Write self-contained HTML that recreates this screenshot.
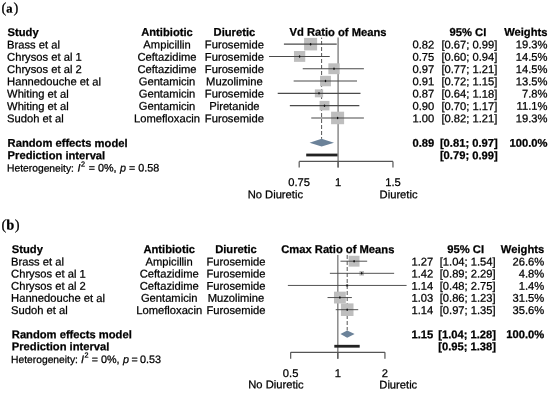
<!DOCTYPE html>
<html><head><meta charset="utf-8"><style>
html,body{margin:0;padding:0;background:#fff;}
svg{display:block;filter:blur(0.3px);}
text{font-family:"Liberation Sans",Arial,sans-serif;fill:#000;stroke:#000;stroke-width:0.25px;}
text.lab{font-family:"Liberation Serif",serif;}
</style></head><body>
<svg width="550" height="393" viewBox="0 0 550 393">
<rect width="550" height="393" fill="#fff"/>
<text x="1.5" y="12.6" class="lab" font-size="14.5" transform="matrix(1 0.001 0 1 0 -0.0015)">(<tspan font-weight="bold" font-size="12.6">a</tspan><tspan dx="0.9">)</tspan></text>
<text x="7.60" y="35.90" font-weight="bold" font-size="11.2" transform="matrix(1 0.001 0 1 0 -0.0076)">Study</text>
<text x="167.00" y="35.90" text-anchor="middle" font-weight="bold" font-size="11.2" transform="matrix(1 0.001 0 1 0 -0.1670)">Antibiotic</text>
<text x="234.40" y="35.90" text-anchor="middle" font-weight="bold" font-size="11.2" transform="matrix(1 0.001 0 1 0 -0.2344)">Diuretic</text>
<text x="338.00" y="35.90" text-anchor="middle" font-weight="bold" font-size="11.2" transform="matrix(1 0.001 0 1 0 -0.3380)">Vd Ratio of Means</text>
<text x="467.90" y="35.90" text-anchor="middle" font-weight="bold" font-size="11.2" transform="matrix(1 0.001 0 1 0 -0.4679)">95% CI</text>
<text x="547.50" y="35.90" text-anchor="end" font-weight="bold" font-size="11.2" transform="matrix(1 0.001 0 1 0 -0.5475)">Weights</text>
<text x="7.10" y="48.40" font-size="11.2" transform="matrix(1 0.001 0 1 0 -0.0071)">Brass et al</text>
<text x="167.00" y="48.40" text-anchor="middle" font-size="11.2" transform="matrix(1 0.001 0 1 0 -0.1670)">Ampicillin</text>
<text x="234.40" y="48.40" text-anchor="middle" font-size="11.2" transform="matrix(1 0.001 0 1 0 -0.2344)">Furosemide</text>
<text x="434.30" y="48.40" text-anchor="end" font-size="11.2" transform="matrix(1 0.001 0 1 0 -0.4343)">0.82</text>
<text x="441.40" y="48.40" font-size="11.2" transform="matrix(1 0.001 0 1 0 -0.4414)">[0.67; 0.99]</text>
<text x="547.50" y="48.40" text-anchor="end" font-size="11.2" transform="matrix(1 0.001 0 1 0 -0.5475)">19.3%</text>
<text x="7.10" y="60.70" font-size="11.2" transform="matrix(1 0.001 0 1 0 -0.0071)">Chrysos et al 1</text>
<text x="167.00" y="60.70" text-anchor="middle" font-size="11.2" transform="matrix(1 0.001 0 1 0 -0.1670)">Ceftazidime</text>
<text x="234.40" y="60.70" text-anchor="middle" font-size="11.2" transform="matrix(1 0.001 0 1 0 -0.2344)">Furosemide</text>
<text x="434.30" y="60.70" text-anchor="end" font-size="11.2" transform="matrix(1 0.001 0 1 0 -0.4343)">0.75</text>
<text x="441.40" y="60.70" font-size="11.2" transform="matrix(1 0.001 0 1 0 -0.4414)">[0.60; 0.94]</text>
<text x="547.50" y="60.70" text-anchor="end" font-size="11.2" transform="matrix(1 0.001 0 1 0 -0.5475)">14.5%</text>
<text x="7.10" y="73.00" font-size="11.2" transform="matrix(1 0.001 0 1 0 -0.0071)">Chrysos et al 2</text>
<text x="167.00" y="73.00" text-anchor="middle" font-size="11.2" transform="matrix(1 0.001 0 1 0 -0.1670)">Ceftazidime</text>
<text x="234.40" y="73.00" text-anchor="middle" font-size="11.2" transform="matrix(1 0.001 0 1 0 -0.2344)">Furosemide</text>
<text x="434.30" y="73.00" text-anchor="end" font-size="11.2" transform="matrix(1 0.001 0 1 0 -0.4343)">0.97</text>
<text x="441.40" y="73.00" font-size="11.2" transform="matrix(1 0.001 0 1 0 -0.4414)">[0.77; 1.21]</text>
<text x="547.50" y="73.00" text-anchor="end" font-size="11.2" transform="matrix(1 0.001 0 1 0 -0.5475)">14.5%</text>
<text x="7.10" y="85.30" font-size="11.2" transform="matrix(1 0.001 0 1 0 -0.0071)">Hannedouche et al</text>
<text x="167.00" y="85.30" text-anchor="middle" font-size="11.2" transform="matrix(1 0.001 0 1 0 -0.1670)">Gentamicin</text>
<text x="234.40" y="85.30" text-anchor="middle" font-size="11.2" transform="matrix(1 0.001 0 1 0 -0.2344)">Muzolimine</text>
<text x="434.30" y="85.30" text-anchor="end" font-size="11.2" transform="matrix(1 0.001 0 1 0 -0.4343)">0.91</text>
<text x="441.40" y="85.30" font-size="11.2" transform="matrix(1 0.001 0 1 0 -0.4414)">[0.72; 1.15]</text>
<text x="547.50" y="85.30" text-anchor="end" font-size="11.2" transform="matrix(1 0.001 0 1 0 -0.5475)">13.5%</text>
<text x="7.10" y="97.60" font-size="11.2" transform="matrix(1 0.001 0 1 0 -0.0071)">Whiting et al</text>
<text x="167.00" y="97.60" text-anchor="middle" font-size="11.2" transform="matrix(1 0.001 0 1 0 -0.1670)">Gentamicin</text>
<text x="234.40" y="97.60" text-anchor="middle" font-size="11.2" transform="matrix(1 0.001 0 1 0 -0.2344)">Furosemide</text>
<text x="434.30" y="97.60" text-anchor="end" font-size="11.2" transform="matrix(1 0.001 0 1 0 -0.4343)">0.87</text>
<text x="441.40" y="97.60" font-size="11.2" transform="matrix(1 0.001 0 1 0 -0.4414)">[0.64; 1.18]</text>
<text x="547.50" y="97.60" text-anchor="end" font-size="11.2" transform="matrix(1 0.001 0 1 0 -0.5475)">7.8%</text>
<text x="7.10" y="109.90" font-size="11.2" transform="matrix(1 0.001 0 1 0 -0.0071)">Whiting et al</text>
<text x="167.00" y="109.90" text-anchor="middle" font-size="11.2" transform="matrix(1 0.001 0 1 0 -0.1670)">Gentamicin</text>
<text x="234.40" y="109.90" text-anchor="middle" font-size="11.2" transform="matrix(1 0.001 0 1 0 -0.2344)">Piretanide</text>
<text x="434.30" y="109.90" text-anchor="end" font-size="11.2" transform="matrix(1 0.001 0 1 0 -0.4343)">0.90</text>
<text x="441.40" y="109.90" font-size="11.2" transform="matrix(1 0.001 0 1 0 -0.4414)">[0.70; 1.17]</text>
<text x="547.50" y="109.90" text-anchor="end" font-size="11.2" transform="matrix(1 0.001 0 1 0 -0.5475)">11.1%</text>
<text x="7.10" y="122.20" font-size="11.2" transform="matrix(1 0.001 0 1 0 -0.0071)">Sudoh et al</text>
<text x="167.00" y="122.20" text-anchor="middle" font-size="11.2" transform="matrix(1 0.001 0 1 0 -0.1670)">Lomefloxacin</text>
<text x="234.40" y="122.20" text-anchor="middle" font-size="11.2" transform="matrix(1 0.001 0 1 0 -0.2344)">Furosemide</text>
<text x="434.30" y="122.20" text-anchor="end" font-size="11.2" transform="matrix(1 0.001 0 1 0 -0.4343)">1.00</text>
<text x="441.40" y="122.20" font-size="11.2" transform="matrix(1 0.001 0 1 0 -0.4414)">[0.82; 1.21]</text>
<text x="547.50" y="122.20" text-anchor="end" font-size="11.2" transform="matrix(1 0.001 0 1 0 -0.5475)">19.3%</text>
<line x1="338.10" y1="37.60" x2="338.10" y2="167.60" stroke="#8a8a8a" stroke-width="1.5"/>
<line x1="321.60" y1="37.60" x2="321.60" y2="138.80" stroke="#555" stroke-width="1" stroke-dasharray="4,2" stroke-dashoffset="2.6"/>
<rect x="304.09" y="37.89" width="13.02" height="12.52" fill="#bebebe"/>
<line x1="283.92" y1="44.15" x2="336.74" y2="44.15" stroke="#4a4a4a" stroke-width="1.1"/>
<ellipse cx="310.60" cy="44.15" rx="0.75" ry="1.25" fill="#111"/>
<rect x="293.96" y="51.02" width="11.29" height="10.85" fill="#bebebe"/>
<line x1="268.99" y1="56.45" x2="329.73" y2="56.45" stroke="#4a4a4a" stroke-width="1.1"/>
<ellipse cx="299.60" cy="56.45" rx="0.75" ry="1.25" fill="#111"/>
<rect x="328.36" y="63.32" width="11.29" height="10.85" fill="#bebebe"/>
<line x1="302.74" y1="68.75" x2="363.89" y2="68.75" stroke="#4a4a4a" stroke-width="1.1"/>
<ellipse cx="334.00" cy="68.75" rx="0.75" ry="1.25" fill="#111"/>
<rect x="320.05" y="75.81" width="10.89" height="10.47" fill="#bebebe"/>
<line x1="293.65" y1="81.05" x2="357.01" y2="81.05" stroke="#4a4a4a" stroke-width="1.1"/>
<ellipse cx="325.50" cy="81.05" rx="0.75" ry="1.25" fill="#111"/>
<rect x="314.86" y="89.37" width="8.28" height="7.96" fill="#bebebe"/>
<line x1="277.72" y1="93.35" x2="360.49" y2="93.35" stroke="#4a4a4a" stroke-width="1.1"/>
<ellipse cx="319.00" cy="93.35" rx="0.75" ry="1.25" fill="#111"/>
<rect x="319.56" y="100.90" width="9.88" height="9.50" fill="#bebebe"/>
<line x1="289.84" y1="105.65" x2="359.34" y2="105.65" stroke="#4a4a4a" stroke-width="1.1"/>
<ellipse cx="324.50" cy="105.65" rx="0.75" ry="1.25" fill="#111"/>
<rect x="331.09" y="111.69" width="13.02" height="12.52" fill="#bebebe"/>
<line x1="311.25" y1="117.95" x2="363.89" y2="117.95" stroke="#4a4a4a" stroke-width="1.1"/>
<ellipse cx="337.60" cy="117.95" rx="0.75" ry="1.25" fill="#111"/>
<polygon points="309.59,142.70 321.60,138.80 333.98,142.70 321.60,146.60" fill="#6b8299"/>
<line x1="306.21" y1="155.00" x2="337.54" y2="155.00" stroke="#222" stroke-width="2.8"/>
<line x1="299.18" y1="161.40" x2="392.96" y2="161.40" stroke="#555" stroke-width="1.2"/>
<line x1="299.18" y1="161.40" x2="299.18" y2="167.60" stroke="#555" stroke-width="1.2"/>
<text x="299.18" y="186.00" text-anchor="middle" font-size="11.2" transform="matrix(1 0.001 0 1 0 -0.2992)">0.75</text>
<line x1="338.10" y1="161.40" x2="338.10" y2="167.60" stroke="#555" stroke-width="1.2"/>
<text x="338.10" y="186.00" text-anchor="middle" font-size="11.2" transform="matrix(1 0.001 0 1 0 -0.3381)">1</text>
<line x1="392.96" y1="161.40" x2="392.96" y2="167.60" stroke="#555" stroke-width="1.2"/>
<text x="392.96" y="186.00" text-anchor="middle" font-size="11.2" transform="matrix(1 0.001 0 1 0 -0.3930)">1.5</text>
<text x="303.00" y="198.30" text-anchor="end" font-size="11.2" transform="matrix(1 0.001 0 1 0 -0.3030)">No Diuretic</text>
<text x="379.60" y="198.30" font-size="11.2" transform="matrix(1 0.001 0 1 0 -0.3796)">Diuretic</text>
<text x="7.60" y="146.80" font-weight="bold" font-size="11.2" transform="matrix(1 0.001 0 1 0 -0.0076)">Random effects model</text>
<text x="7.60" y="159.10" font-weight="bold" font-size="11.2" transform="matrix(1 0.001 0 1 0 -0.0076)">Prediction interval</text>
<text x="434.30" y="146.80" text-anchor="end" font-weight="bold" font-size="11.2" transform="matrix(1 0.001 0 1 0 -0.4343)">0.89</text>
<text x="439.90" y="146.80" font-weight="bold" font-size="11.2" transform="matrix(1 0.001 0 1 0 -0.4399)">[0.81; 0.97]</text>
<text x="547.50" y="146.80" text-anchor="end" font-weight="bold" font-size="11.2" transform="matrix(1 0.001 0 1 0 -0.5475)">100.0%</text>
<text x="439.90" y="159.10" font-weight="bold" font-size="11.2" transform="matrix(1 0.001 0 1 0 -0.4399)">[0.79; 0.99]</text>
<text x="7.00" y="171.60" font-size="10.3" transform="matrix(1 0.001 0 1 0 -0.0070)">Heterogeneity:</text>
<text x="77.60" y="171.60" font-style="italic" font-size="10.8" transform="matrix(1 0.001 0 1 0 -0.0776)">I</text>
<text x="81.00" y="166.40" font-size="7.2" transform="matrix(1 0.001 0 1 0 -0.0810)">2</text>
<text x="88.80" y="171.60" font-size="10.6" transform="matrix(1 0.001 0 1 0 -0.0888)">=</text>
<text x="98.00" y="171.60" font-size="10.8" transform="matrix(1 0.001 0 1 0 -0.0980)">0%,</text>
<text x="120.00" y="171.60" font-style="italic" font-size="10.8" transform="matrix(1 0.001 0 1 0 -0.1200)">p</text>
<text x="129.00" y="171.60" font-size="10.6" transform="matrix(1 0.001 0 1 0 -0.1290)">=</text>
<text x="138.20" y="171.60" font-size="10.8" transform="matrix(1 0.001 0 1 0 -0.1382)">0.58</text>
<text x="1.5" y="229.4" class="lab" font-size="14.5" transform="matrix(1 0.001 0 1 0 -0.0015)">(<tspan font-weight="bold" font-size="14.4">b</tspan><tspan dx="0.5">)</tspan></text>
<text x="11.80" y="253.10" font-weight="bold" font-size="11.2" transform="matrix(1 0.001 0 1 0 -0.0118)">Study</text>
<text x="169.20" y="253.10" text-anchor="middle" font-weight="bold" font-size="11.2" transform="matrix(1 0.001 0 1 0 -0.1692)">Antibiotic</text>
<text x="236.00" y="253.10" text-anchor="middle" font-weight="bold" font-size="11.2" transform="matrix(1 0.001 0 1 0 -0.2360)">Diuretic</text>
<text x="337.80" y="253.10" text-anchor="middle" font-weight="bold" font-size="11.2" transform="matrix(1 0.001 0 1 0 -0.3378)">Cmax Ratio of Means</text>
<text x="465.70" y="253.10" text-anchor="middle" font-weight="bold" font-size="11.2" transform="matrix(1 0.001 0 1 0 -0.4657)">95% CI</text>
<text x="544.20" y="253.10" text-anchor="end" font-weight="bold" font-size="11.2" transform="matrix(1 0.001 0 1 0 -0.5442)">Weights</text>
<text x="11.10" y="265.45" font-size="11.2" transform="matrix(1 0.001 0 1 0 -0.0111)">Brass et al</text>
<text x="169.20" y="265.45" text-anchor="middle" font-size="11.2" transform="matrix(1 0.001 0 1 0 -0.1692)">Ampicillin</text>
<text x="236.00" y="265.45" text-anchor="middle" font-size="11.2" transform="matrix(1 0.001 0 1 0 -0.2360)">Furosemide</text>
<text x="433.30" y="265.45" text-anchor="end" font-size="11.2" transform="matrix(1 0.001 0 1 0 -0.4333)">1.27</text>
<text x="439.70" y="265.45" font-size="11.2" transform="matrix(1 0.001 0 1 0 -0.4397)">[1.04; 1.54]</text>
<text x="544.20" y="265.45" text-anchor="end" font-size="11.2" transform="matrix(1 0.001 0 1 0 -0.5442)">26.6%</text>
<text x="11.10" y="277.57" font-size="11.2" transform="matrix(1 0.001 0 1 0 -0.0111)">Chrysos et al 1</text>
<text x="169.20" y="277.57" text-anchor="middle" font-size="11.2" transform="matrix(1 0.001 0 1 0 -0.1692)">Ceftazidime</text>
<text x="236.00" y="277.57" text-anchor="middle" font-size="11.2" transform="matrix(1 0.001 0 1 0 -0.2360)">Furosemide</text>
<text x="433.30" y="277.57" text-anchor="end" font-size="11.2" transform="matrix(1 0.001 0 1 0 -0.4333)">1.42</text>
<text x="439.70" y="277.57" font-size="11.2" transform="matrix(1 0.001 0 1 0 -0.4397)">[0.89; 2.29]</text>
<text x="544.20" y="277.57" text-anchor="end" font-size="11.2" transform="matrix(1 0.001 0 1 0 -0.5442)">4.8%</text>
<text x="11.10" y="289.69" font-size="11.2" transform="matrix(1 0.001 0 1 0 -0.0111)">Chrysos et al 2</text>
<text x="169.20" y="289.69" text-anchor="middle" font-size="11.2" transform="matrix(1 0.001 0 1 0 -0.1692)">Ceftazidime</text>
<text x="236.00" y="289.69" text-anchor="middle" font-size="11.2" transform="matrix(1 0.001 0 1 0 -0.2360)">Furosemide</text>
<text x="433.30" y="289.69" text-anchor="end" font-size="11.2" transform="matrix(1 0.001 0 1 0 -0.4333)">1.14</text>
<text x="439.70" y="289.69" font-size="11.2" transform="matrix(1 0.001 0 1 0 -0.4397)">[0.48; 2.75]</text>
<text x="544.20" y="289.69" text-anchor="end" font-size="11.2" transform="matrix(1 0.001 0 1 0 -0.5442)">1.4%</text>
<text x="11.10" y="301.81" font-size="11.2" transform="matrix(1 0.001 0 1 0 -0.0111)">Hannedouche et al</text>
<text x="169.20" y="301.81" text-anchor="middle" font-size="11.2" transform="matrix(1 0.001 0 1 0 -0.1692)">Gentamicin</text>
<text x="236.00" y="301.81" text-anchor="middle" font-size="11.2" transform="matrix(1 0.001 0 1 0 -0.2360)">Muzolimine</text>
<text x="433.30" y="301.81" text-anchor="end" font-size="11.2" transform="matrix(1 0.001 0 1 0 -0.4333)">1.03</text>
<text x="439.70" y="301.81" font-size="11.2" transform="matrix(1 0.001 0 1 0 -0.4397)">[0.86; 1.23]</text>
<text x="544.20" y="301.81" text-anchor="end" font-size="11.2" transform="matrix(1 0.001 0 1 0 -0.5442)">31.5%</text>
<text x="11.10" y="313.93" font-size="11.2" transform="matrix(1 0.001 0 1 0 -0.0111)">Sudoh et al</text>
<text x="169.20" y="313.93" text-anchor="middle" font-size="11.2" transform="matrix(1 0.001 0 1 0 -0.1692)">Lomefloxacin</text>
<text x="236.00" y="313.93" text-anchor="middle" font-size="11.2" transform="matrix(1 0.001 0 1 0 -0.2360)">Furosemide</text>
<text x="433.30" y="313.93" text-anchor="end" font-size="11.2" transform="matrix(1 0.001 0 1 0 -0.4333)">1.14</text>
<text x="439.70" y="313.93" font-size="11.2" transform="matrix(1 0.001 0 1 0 -0.4397)">[0.97; 1.35]</text>
<text x="544.20" y="313.93" text-anchor="end" font-size="11.2" transform="matrix(1 0.001 0 1 0 -0.5442)">35.6%</text>
<line x1="337.80" y1="255.00" x2="337.80" y2="358.80" stroke="#8a8a8a" stroke-width="1.5"/>
<line x1="347.20" y1="255.00" x2="347.20" y2="330.42" stroke="#555" stroke-width="1" stroke-dasharray="4,2" stroke-dashoffset="0"/>
<rect x="348.66" y="255.76" width="10.88" height="10.88" fill="#bebebe"/>
<line x1="340.47" y1="261.20" x2="367.16" y2="261.20" stroke="#4a4a4a" stroke-width="0.95"/>
<ellipse cx="354.10" cy="261.20" rx="0.75" ry="1.25" fill="#111"/>
<rect x="359.39" y="271.01" width="4.62" height="4.62" fill="#bebebe"/>
<line x1="329.88" y1="273.32" x2="394.14" y2="273.32" stroke="#4a4a4a" stroke-width="0.95"/>
<ellipse cx="361.70" cy="273.32" rx="0.75" ry="1.25" fill="#111"/>
<rect x="345.85" y="284.19" width="2.50" height="2.50" fill="#bebebe"/>
<line x1="287.89" y1="285.44" x2="406.59" y2="285.44" stroke="#4a4a4a" stroke-width="0.95"/>
<ellipse cx="347.10" cy="285.44" rx="0.75" ry="1.25" fill="#111"/>
<rect x="333.98" y="291.64" width="11.84" height="11.84" fill="#bebebe"/>
<line x1="327.54" y1="297.56" x2="351.88" y2="297.56" stroke="#4a4a4a" stroke-width="0.95"/>
<ellipse cx="339.90" cy="297.56" rx="0.75" ry="1.25" fill="#111"/>
<rect x="340.91" y="303.39" width="12.59" height="12.59" fill="#bebebe"/>
<line x1="335.73" y1="309.68" x2="358.21" y2="309.68" stroke="#4a4a4a" stroke-width="0.95"/>
<ellipse cx="347.20" cy="309.68" rx="0.75" ry="1.25" fill="#111"/>
<polygon points="340.47,334.12 347.20,330.42 354.59,334.12 347.20,337.82" fill="#6b8299"/>
<line x1="334.31" y1="346.24" x2="359.70" y2="346.24" stroke="#222" stroke-width="2.8"/>
<line x1="290.67" y1="352.30" x2="384.93" y2="352.30" stroke="#555" stroke-width="1.2"/>
<line x1="290.67" y1="352.30" x2="290.67" y2="358.80" stroke="#555" stroke-width="1.2"/>
<text x="290.67" y="376.90" text-anchor="middle" font-size="11.2" transform="matrix(1 0.001 0 1 0 -0.2907)">0.5</text>
<line x1="337.80" y1="352.30" x2="337.80" y2="358.80" stroke="#555" stroke-width="1.2"/>
<text x="337.80" y="376.90" text-anchor="middle" font-size="11.2" transform="matrix(1 0.001 0 1 0 -0.3378)">1</text>
<line x1="384.93" y1="352.30" x2="384.93" y2="358.80" stroke="#555" stroke-width="1.2"/>
<text x="384.93" y="376.90" text-anchor="middle" font-size="11.2" transform="matrix(1 0.001 0 1 0 -0.3849)">2</text>
<text x="303.60" y="388.40" text-anchor="end" font-size="11.2" transform="matrix(1 0.001 0 1 0 -0.3036)">No Diuretic</text>
<text x="379.30" y="388.40" font-size="11.2" transform="matrix(1 0.001 0 1 0 -0.3793)">Diuretic</text>
<text x="11.80" y="338.17" font-weight="bold" font-size="11.2" transform="matrix(1 0.001 0 1 0 -0.0118)">Random effects model</text>
<text x="11.80" y="350.29" font-weight="bold" font-size="11.2" transform="matrix(1 0.001 0 1 0 -0.0118)">Prediction interval</text>
<text x="433.30" y="338.17" text-anchor="end" font-weight="bold" font-size="11.2" transform="matrix(1 0.001 0 1 0 -0.4333)">1.15</text>
<text x="438.20" y="338.17" font-weight="bold" font-size="11.2" transform="matrix(1 0.001 0 1 0 -0.4382)">[1.04; 1.28]</text>
<text x="544.20" y="338.17" text-anchor="end" font-weight="bold" font-size="11.2" transform="matrix(1 0.001 0 1 0 -0.5442)">100.0%</text>
<text x="438.20" y="350.29" font-weight="bold" font-size="11.2" transform="matrix(1 0.001 0 1 0 -0.4382)">[0.95; 1.38]</text>
<text x="11.00" y="363.00" font-size="10.3" transform="matrix(1 0.001 0 1 0 -0.0110)">Heterogeneity:</text>
<text x="80.90" y="363.00" font-style="italic" font-size="10.8" transform="matrix(1 0.001 0 1 0 -0.0809)">I</text>
<text x="84.50" y="357.40" font-size="7.2" transform="matrix(1 0.001 0 1 0 -0.0845)">2</text>
<text x="91.80" y="363.00" font-size="10.6" transform="matrix(1 0.001 0 1 0 -0.0918)">=</text>
<text x="101.00" y="363.00" font-size="10.8" transform="matrix(1 0.001 0 1 0 -0.1010)">0%,</text>
<text x="123.00" y="363.00" font-style="italic" font-size="10.8" transform="matrix(1 0.001 0 1 0 -0.1230)">p</text>
<text x="131.50" y="363.00" font-size="10.6" transform="matrix(1 0.001 0 1 0 -0.1315)">=</text>
<text x="140.00" y="363.00" font-size="10.8" transform="matrix(1 0.001 0 1 0 -0.1400)">0.53</text>
</svg>
</body></html>
